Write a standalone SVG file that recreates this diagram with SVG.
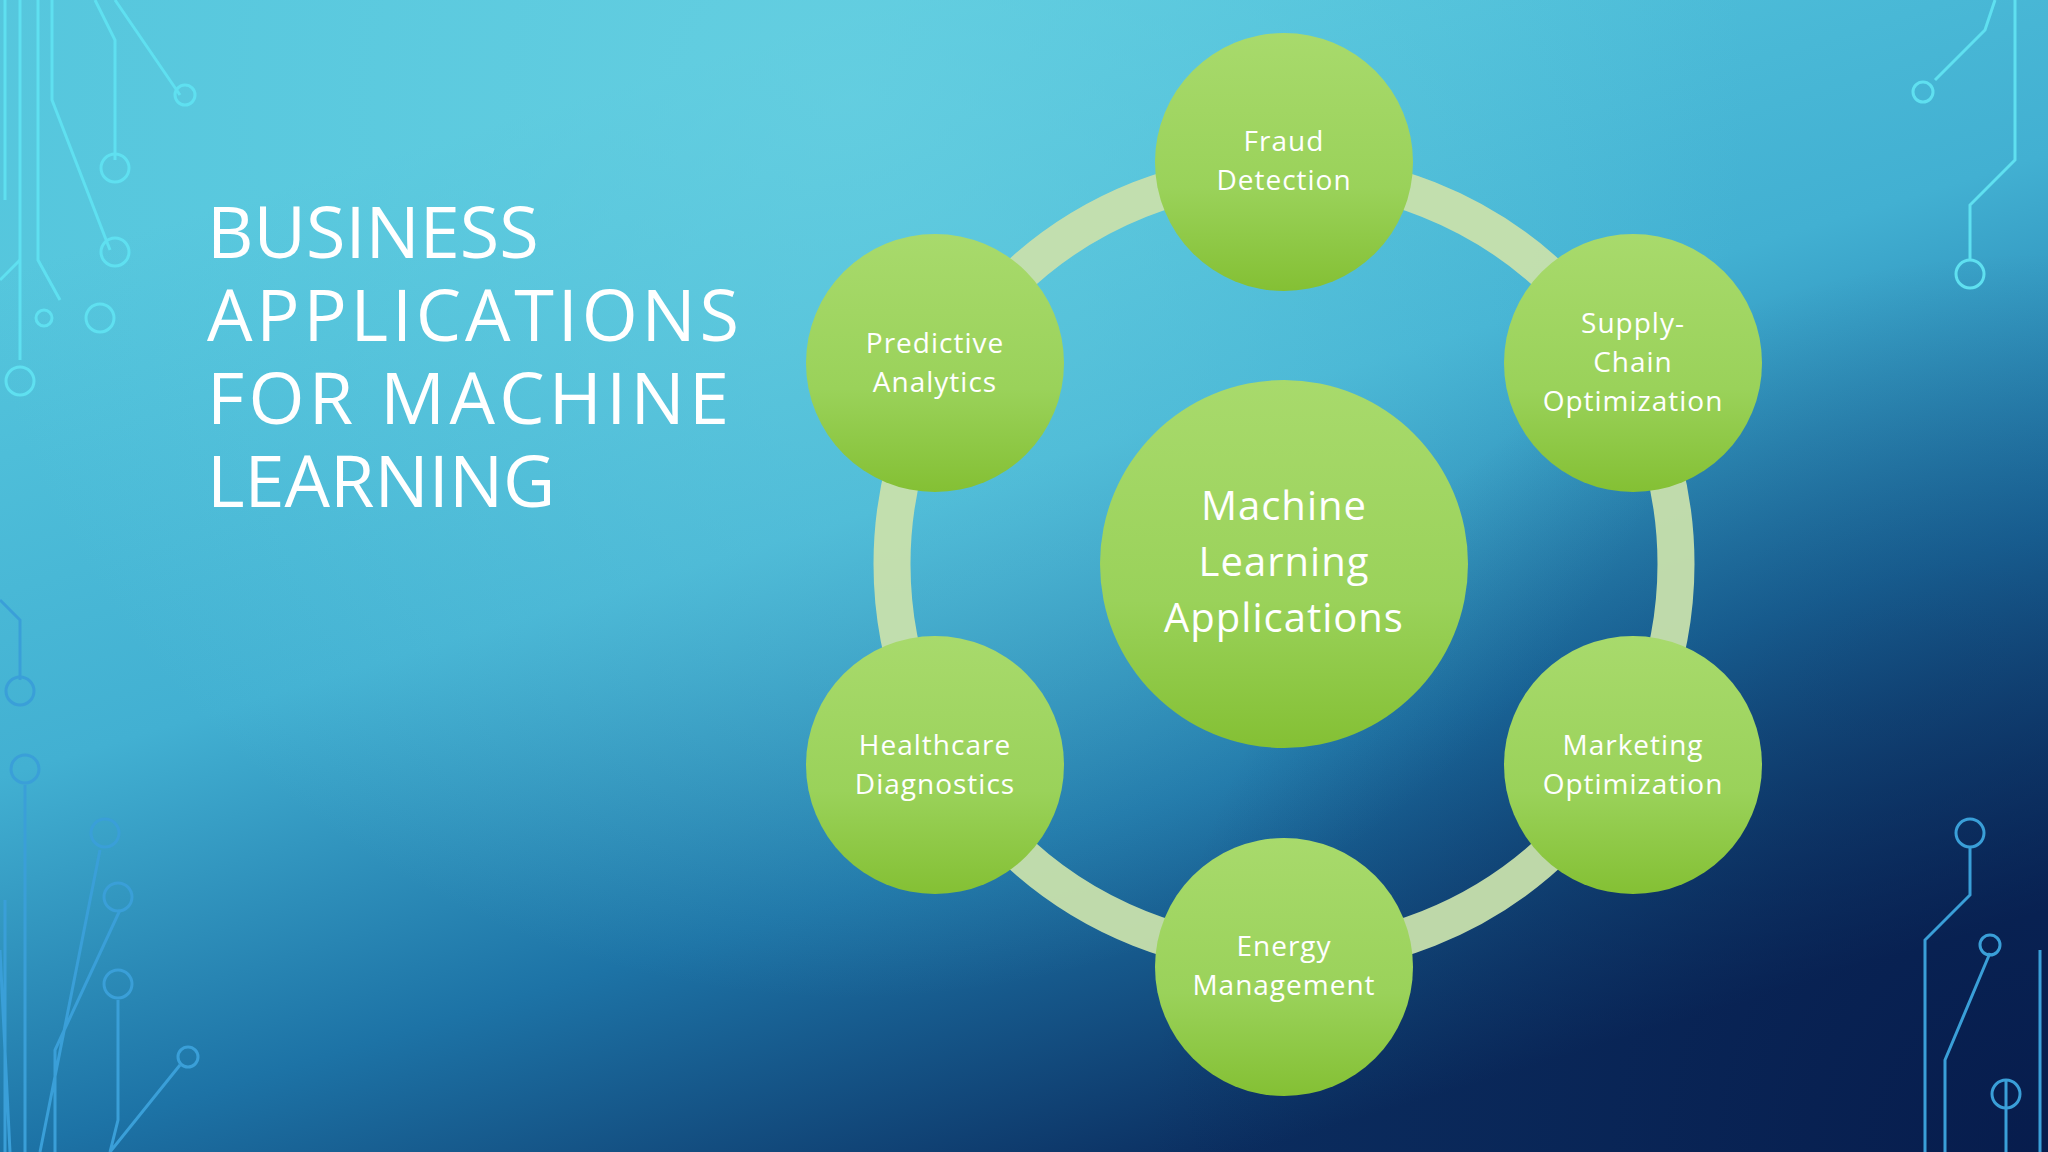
<svg xmlns="http://www.w3.org/2000/svg" width="2048" height="1152" viewBox="0 0 2048 1152">
<defs>
<linearGradient id="bg" x1="900" y1="0" x2="1250" y2="1152" gradientUnits="userSpaceOnUse">
<stop offset="0" stop-color="#55c6dd"/>
<stop offset="0.4" stop-color="#42b0d2"/>
<stop offset="0.7" stop-color="#1d73a6"/>
<stop offset="1" stop-color="#0b2e60"/>
</linearGradient>
<radialGradient id="hl" cx="850" cy="100" r="900" gradientUnits="userSpaceOnUse">
<stop offset="0" stop-color="#6ad2e2" stop-opacity="0.7"/>
<stop offset="1" stop-color="#6ad2e2" stop-opacity="0"/>
</radialGradient>
<radialGradient id="dk" cx="2048" cy="1152" r="900" gradientUnits="userSpaceOnUse">
<stop offset="0" stop-color="#061848" stop-opacity="0.8"/>
<stop offset="1" stop-color="#061848" stop-opacity="0"/>
</radialGradient>
<linearGradient id="g" x1="0" y1="0" x2="0" y2="1">
<stop offset="0" stop-color="#a8da6c"/>
<stop offset="0.6" stop-color="#9ad25a"/>
<stop offset="1" stop-color="#84c034"/>
</linearGradient>
<style>
.sat{fill:url(#g)}
.t{font-family:"Open Sans","DejaVu Sans",sans-serif;fill:#fff;text-anchor:middle}
.s{font-size:28px;letter-spacing:1px}
.c{stroke-width:3;fill:none}
</style>
</defs>
<rect width="2048" height="1152" fill="url(#bg)"/>
<rect width="2048" height="1152" fill="url(#hl)"/>
<rect width="2048" height="1152" fill="url(#dk)"/>
<g class="c" stroke="#5fe0f0">
<path d="M5 0V200M20 0V360M38 0V260L60 300M52 0V100L110 250M95 0L115 40V160M115 0L180 95"/>
<circle cx="185" cy="95" r="10"/><circle cx="115" cy="168" r="14"/><circle cx="115" cy="252" r="14"/><circle cx="100" cy="318" r="14"/><circle cx="44" cy="318" r="8"/><circle cx="20" cy="381" r="14"/>
<path d="M20 260L0 280"/>
<path d="M1995 0L1985 30L1935 80M2015 0V160L1970 205V260"/>
<circle cx="1923" cy="92" r="10"/><circle cx="1970" cy="274" r="14"/>
</g>
<g class="c" stroke="#3a9fd8">
<path d="M0 600L20 620V680M25 785V1152M0 950L10 1152M40 1152L100 850M55 1152V1050L120 910M118 1000V1120L110 1152M110 1152L180 1065M5 1152V900"/>
<circle cx="20" cy="691" r="14"/><circle cx="25" cy="769" r="14"/><circle cx="105" cy="833" r="14"/><circle cx="118" cy="897" r="14"/><circle cx="118" cy="984" r="14"/><circle cx="188" cy="1057" r="10"/>
<path d="M1970 848V895L1925 940V1152M1990 953L1945 1060V1152M2006 1080V1152M2040 950V1152"/>
<circle cx="1970" cy="833" r="14"/><circle cx="1990" cy="945" r="10"/><circle cx="2006" cy="1094" r="14"/>
</g>
<g id="title" class="t" style="text-anchor:start;font-size:72px">
<text x="207" y="258">BUSINESS</text>
<text x="207" y="341" textLength="532">APPLICATIONS</text>
<text x="207" y="424" textLength="522">FOR MACHINE</text>
<text x="207" y="507">LEARNING</text>
</g>
<g id="connectors"><circle cx="1284" cy="564" r="392" fill="none" stroke="#c8e0ac" stroke-width="37" opacity="0.95"/></g>
<g id="center"><circle class="sat" cx="1284" cy="564" r="184"/>
<text class="t" x="1284" y="520" font-size="40" letter-spacing="1">Machine</text><text class="t" x="1284" y="576" font-size="40" letter-spacing="1">Learning</text><text class="t" x="1284" y="632" font-size="40" letter-spacing="1">Applications</text></g>
<g id="fraud"><circle class="sat" cx="1284" cy="162" r="129"/><text class="t s" x="1284" y="151">Fraud</text><text class="t s" x="1284" y="190">Detection</text></g>
<g id="supply"><circle class="sat" cx="1633" cy="363" r="129"/><text class="t s" x="1633" y="333">Supply-</text><text class="t s" x="1633" y="372">Chain</text><text class="t s" x="1633" y="411">Optimization</text></g>
<g id="marketing"><circle class="sat" cx="1633" cy="765" r="129"/><text class="t s" x="1633" y="755">Marketing</text><text class="t s" x="1633" y="794">Optimization</text></g>
<g id="energy"><circle class="sat" cx="1284" cy="967" r="129"/><text class="t s" x="1284" y="956">Energy</text><text class="t s" x="1284" y="995">Management</text></g>
<g id="health"><circle class="sat" cx="935" cy="765" r="129"/><text class="t s" x="935" y="755">Healthcare</text><text class="t s" x="935" y="794">Diagnostics</text></g>
<g id="predict"><circle class="sat" cx="935" cy="363" r="129"/><text class="t s" x="935" y="353">Predictive</text><text class="t s" x="935" y="392">Analytics</text></g>
</svg>
